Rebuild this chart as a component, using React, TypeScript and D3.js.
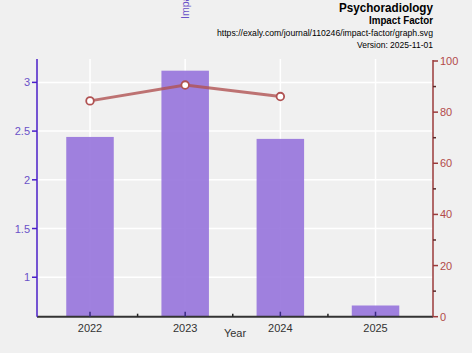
import React from "react";
import * as d3 from "d3";

const years = [2022, 2023, 2024, 2025];
const impactFactor = [2.44, 3.12, 2.42, 0.71];
const lineYears = [2022, 2023, 2024];
const percentile = [84.4, 90.6, 86.1];
const leftTicks = [1, 1.5, 2, 2.5, 3];
const rightTicks = [0, 20, 40, 60, 80, 100];
const rightMinor = [10, 30, 50, 70, 90];

const W = 472;
const H = 353;
const L = 37, R = 433, T = 59, B = 316.7;

export default function App() {
  const x = d3.scaleLinear().domain([2021.443, 2025.604]).range([L, R]);
  const y = d3.scaleLinear().domain([0.595, 3.24]).range([B, T]);
  const y2 = d3.scaleLinear().domain([0, 100]).range([B, 61]);
  const barW = 47.5;
  const line = d3.line<number>().x((_, i) => x(lineYears[i])).y((d) => y2(d));
  const purple = "#4b1fc9";
  const purpleText = "#6a52c8";
  const red = "#9b3b3b";
  const redText = "#b24a4a";
  const font = "Liberation Sans, Arial, sans-serif";
  return (
    <svg width={W} height={H} style={{ position: "absolute", left: 0, top: 0, fontFamily: font }}>
      <rect x={0} y={0} width={W} height={H} fill="#f0f0f0" />
      {/* grid */}
      {leftTicks.map((t) => (
        <line key={"gy" + t} x1={L} x2={R} y1={y(t)} y2={y(t)} stroke="#ffffff" strokeWidth={1.5} />
      ))}
      {years.map((yr) => (
        <line key={"gx" + yr} x1={x(yr)} x2={x(yr)} y1={T} y2={B} stroke="#ffffff" strokeWidth={1.5} />
      ))}
      {/* bars */}
      {years.map((yr, i) => (
        <rect key={"b" + yr} x={x(yr) - barW / 2} y={y(impactFactor[i])} width={barW} height={B - y(impactFactor[i])} fill="#9370DB" opacity={0.88} />
      ))}
      {/* line */}
      <path d={line(percentile) || ""} fill="none" stroke="#b05252" strokeOpacity={0.8} strokeWidth={3} />
      {percentile.map((p, i) => (
        <circle key={"c" + i} cx={x(lineYears[i])} cy={y2(p)} r={3.8} fill="#ffffff" stroke="#b05252" strokeWidth={1.8} />
      ))}
      {/* bottom axis */}
      <line x1={L} x2={R} y1={B} y2={B} stroke="#333333" strokeWidth={2} />
      {years.map((yr) => (
        <line key={"xt" + yr} x1={x(yr)} x2={x(yr)} y1={B} y2={B - 5} stroke="#3a2a80" strokeWidth={1.5} />
      ))}
      {years.slice(0, 3).map((yr) => (
        <line key={"xm" + yr} x1={x(yr + 0.5)} x2={x(yr + 0.5)} y1={B} y2={B - 3} stroke="#222222" strokeWidth={1.5} />
      ))}
      {years.map((yr) => (
        <text key={"xl" + yr} x={x(yr)} y={332} textAnchor="middle" fontSize={11} fill="#333333">{yr}</text>
      ))}
      <text x={235} y={337} textAnchor="middle" fontSize={11} fill="#333333">Year</text>
      {/* left axis */}
      <line x1={L} x2={L} y1={T} y2={B} stroke={purple} strokeWidth={1.5} />
      {leftTicks.map((t) => (
        <g key={"lt" + t}>
          <line x1={L - 5} x2={L} y1={y(t)} y2={y(t)} stroke={purple} strokeWidth={1.5} />
          <text x={L - 7} y={y(t) + 4} textAnchor="end" fontSize={11} fill={purpleText}>{t}</text>
        </g>
      ))}
      <text transform="translate(189,19) rotate(-90)" textAnchor="start" fontSize={10.5} fill={purpleText}>Impact Factor</text>
      {/* right axis */}
      <line x1={R} x2={R} y1={60} y2={B} stroke={red} strokeWidth={1.5} />
      {rightTicks.map((t) => (
        <g key={"rt" + t}>
          <line x1={R} x2={R + 5} y1={y2(t)} y2={y2(t)} stroke={red} strokeWidth={1.5} />
          <text x={R + 7} y={y2(t) + 4} textAnchor="start" fontSize={11} fill={redText}>{t}</text>
        </g>
      ))}
      {rightMinor.map((t) => (
        <line key={"rm" + t} x1={R} x2={R + 3} y1={y2(t)} y2={y2(t)} stroke="#5a2a2a" strokeWidth={1.5} />
      ))}
      {/* titles */}
      <text x={339} y={11.5} fontSize={12.5} fontWeight="bold" fill="#000000" textLength={94} lengthAdjust="spacingAndGlyphs">Psychoradiology</text>
      <text x={369} y={23.5} fontSize={10.5} fontWeight="bold" fill="#000000" textLength={64} lengthAdjust="spacingAndGlyphs">Impact Factor</text>
      <text x={217} y={35.5} fontSize={9.5} fill="#000000" textLength={216} lengthAdjust="spacingAndGlyphs">https://exaly.com/journal/110246/impact-factor/graph.svg</text>
      <text x={357} y={47.5} fontSize={9.5} fill="#000000" textLength={76} lengthAdjust="spacingAndGlyphs">Version: 2025-11-01</text>
    </svg>
  );
}
